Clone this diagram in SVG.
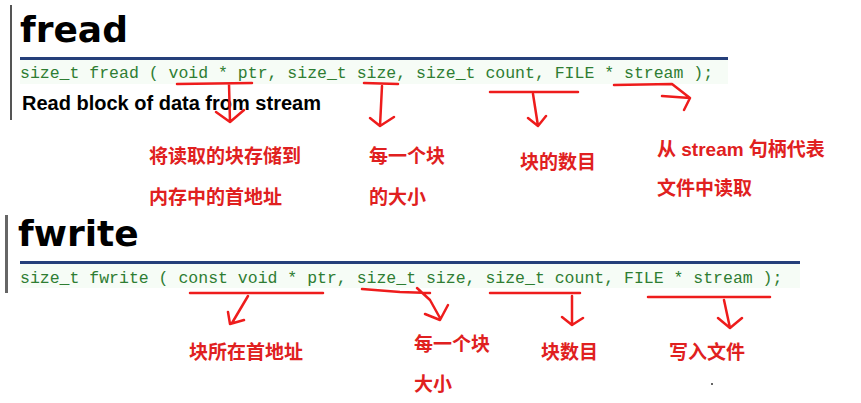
<svg xmlns="http://www.w3.org/2000/svg" width="861" height="403" viewBox="0 0 861 403">
<style>
.t{font-family:"DejaVu Sans","Liberation Sans",sans-serif;font-weight:bold;font-size:36px;fill:#000}
.c{font-family:"Liberation Mono",monospace;font-size:16.5px;fill:#2e7d32}
.r{font-family:"Liberation Sans","Noto Sans CJK SC",sans-serif;font-weight:bold;font-size:19px;fill:#e02020}
.a{fill:none;stroke:#ee1c1c;stroke-width:2.5;stroke-linecap:round;stroke-linejoin:round}
</style>
<rect width="861" height="403" fill="#fff"/>
<g id="fread">
<rect x="10" y="5" width="2" height="115" fill="#555"/>
<text class="t" x="20" y="42">fread</text>
<rect x="20" y="57" width="708" height="3" fill="#253f7a"/>
<rect x="20" y="60" width="708" height="24" fill="#f6fcf6"/>
<text class="c" x="20" y="78">size_t fread ( void * ptr, size_t size, size_t count, FILE * stream );</text>
<text x="22" y="110" style="font-family:'Liberation Sans',sans-serif;font-weight:bold;font-size:20px">Read block of data from stream</text>
</g>
<g id="fwrite">
<rect x="5" y="215" width="3" height="78" fill="#666"/>
<text class="t" x="18" y="246">fwrite</text>
<rect x="20" y="261" width="780" height="3" fill="#253f7a"/>
<rect x="20" y="264" width="780" height="24" fill="#f6fcf6"/>
<text class="c" x="20" y="283">size_t fwrite ( const void * ptr, size_t size, size_t count, FILE * stream );</text>
</g>
<g id="connectors">
<path class="a" d="M177 84 L252 83 M229 84 L230 122 M216 112 L230 122 L244 110"/>
<path class="a" d="M364 83 L398 84 M382 86 L380 126 M370 118 L380 126 L394 117"/>
<path class="a" d="M490 92 L578 92 M533 94 L538 126 M528 118 L538 126 L546 116"/>
<path class="a" d="M614 85 L672 84 L690 98 M662 96 L690 98 L684 110"/>
<path class="a" d="M190 293 L323 293 M248 296 L232 323 M228 312 L230 324 L244 320"/>
<path class="a" d="M362 289 L400 292 L430 293 M417 288 L430 300 L440 318 M425 314 L440 320 L448 305"/>
<path class="a" d="M490 293 L580 293 M572 296 L572 325 M562 317 L572 325 L583 318"/>
<path class="a" d="M648 297 L770 297 M724 300 L730 328 M718 318 L730 328 L742 318"/>
</g>
<g id="labels">
<text class="r" x="149" y="163">将读取的块存储到</text>
<text class="r" x="149" y="204">内存中的首地址</text>
<text class="r" x="369" y="163">每一个块</text>
<text class="r" x="369" y="204">的大小</text>
<text class="r" x="520" y="169">块的数目</text>
<text class="r" x="657" y="156">从 stream 句柄代表</text>
<text class="r" x="657" y="195">文件中读取</text>
<text class="r" x="189" y="359">块所在首地址</text>
<text class="r" x="414" y="351">每一个块</text>
<text class="r" x="414" y="391">大小</text>
<text class="r" x="541" y="359">块数目</text>
<text class="r" x="669" y="359">写入文件</text>
<circle cx="712" cy="384" r="1" fill="#333"/>
</g>
</svg>
